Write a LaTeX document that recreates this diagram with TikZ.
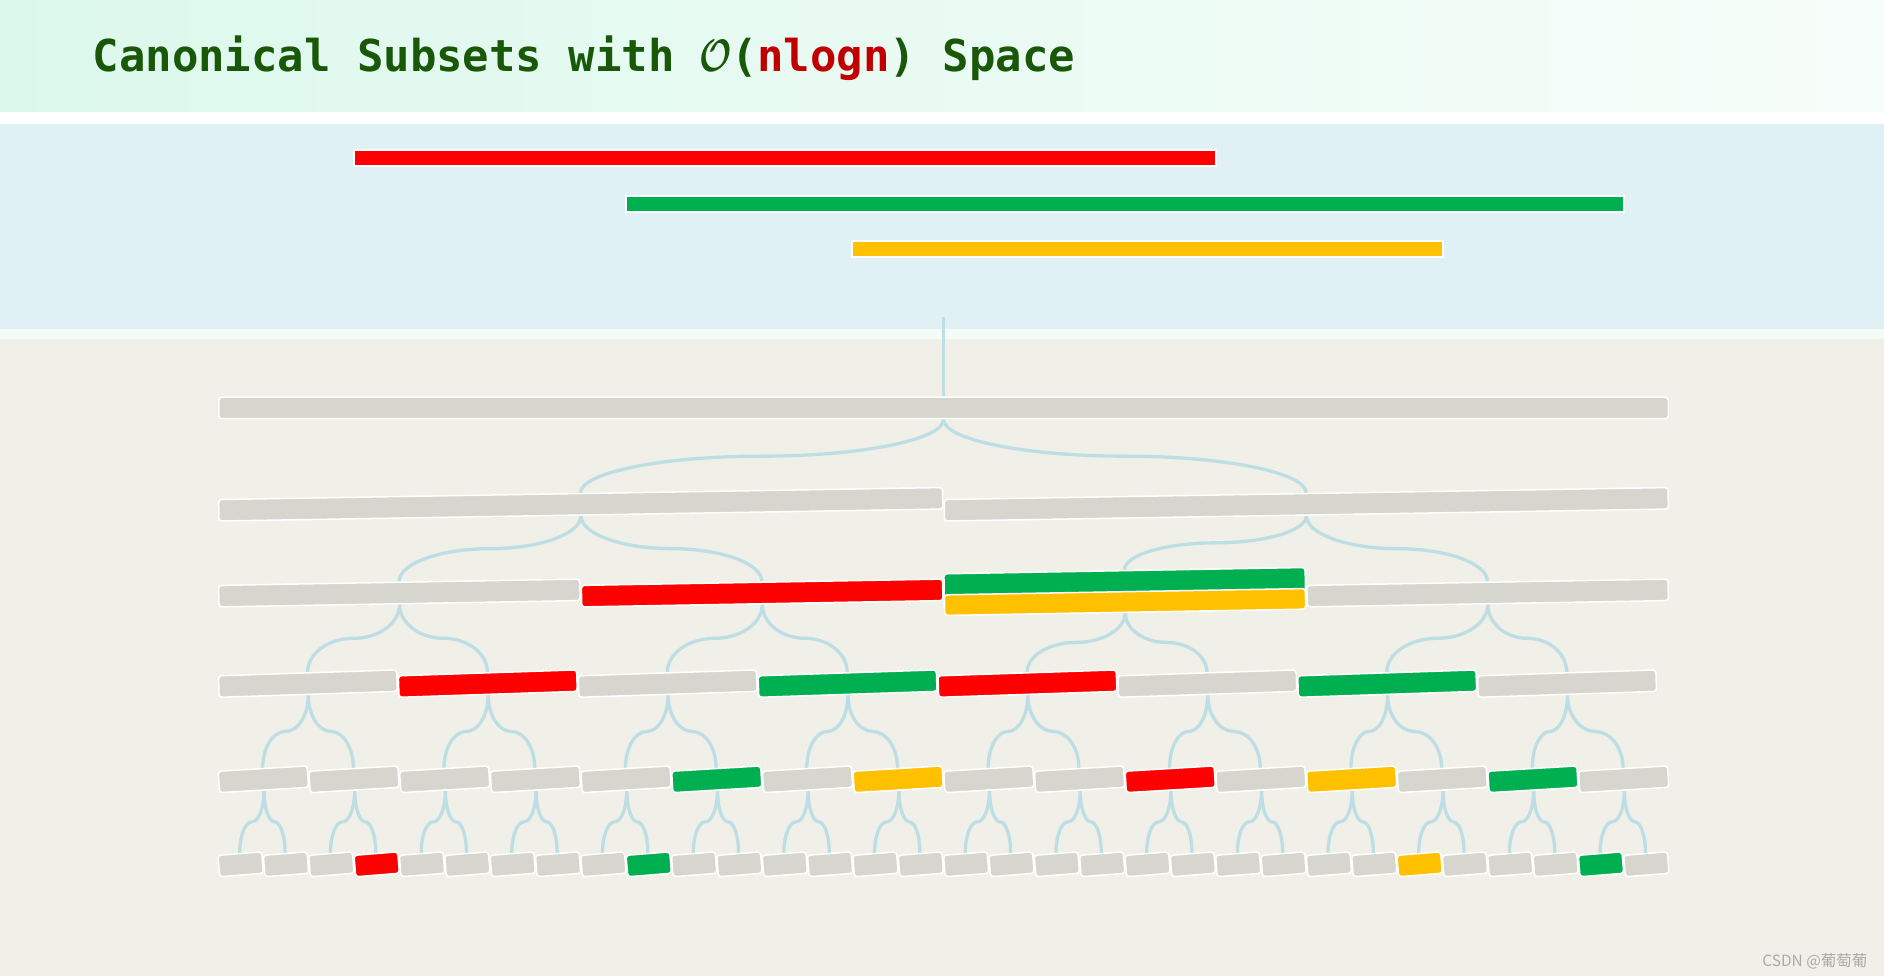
\documentclass[tikz,border=0pt]{standalone}
\usepackage{fontspec}
\usepackage{tikz}
\usetikzlibrary{calc, backgrounds}
\newfontfamily\monofont{DejaVu Sans Mono}
\newfontfamily\cjkfont{Noto Sans CJK SC}
\definecolor{segred}{RGB}{255,0,0}
\definecolor{seggrn}{RGB}{0,176,80}
\definecolor{segyel}{RGB}{255,192,0}
\definecolor{bargray}{RGB}{214,214,207}
\definecolor{linkblue}{RGB}{189,222,228}
\definecolor{beige}{RGB}{240,240,232}
\definecolor{skyband}{RGB}{223,241,245}
\definecolor{mintl}{RGB}{220,248,236}
\definecolor{mintr}{RGB}{247,253,250}
\definecolor{gapmint}{RGB}{243,252,246}
\definecolor{titlegreen}{RGB}{25,88,8}
\definecolor{titlered}{RGB}{192,0,0}
\definecolor{watergray}{RGB}{170,170,170}
\pgfdeclarelayer{edges}
\pgfsetlayers{background,edges,main}
\tikzset{
  bar/.style={rectangle, draw=white, line width=0.15mm, fill=bargray, rounded corners=0.3mm, inner sep=0pt, minimum height=2.15mm},
  seg/.style={draw=white, line width=0.15mm},
  link/.style={draw=linkblue, line width=0.33mm},
  % coloured canonical nodes
  c3-1/.style={fill=segred},
  c3-2/.style={fill=seggrn, minimum height=4.13mm, yshift=0.17mm},
  c4-1/.style={fill=segred}, c4-3/.style={fill=seggrn},
  c4-4/.style={fill=segred}, c4-6/.style={fill=seggrn},
  c5-5/.style={fill=seggrn}, c5-7/.style={fill=segyel},
  c5-10/.style={fill=segred}, c5-12/.style={fill=segyel},
  c5-14/.style={fill=seggrn},
  c6-3/.style={fill=segred}, c6-9/.style={fill=seggrn},
  c6-26/.style={fill=segyel}, c6-30/.style={fill=seggrn}
}
% rounded branch from parent bottom to child top
\newcommand\branch[2]{%
  \coordinate (m) at ($(#1.south)!0.5!(#2.north)$);
  \draw[link] (#1.south) .. controls ($(#1.south)!0.55!(#1.south|-m)$) and ($(m)!0.55!(#1.south|-m)$) .. (m)
    .. controls ($(m)!0.55!(#2.north|-m)$) and ($(#2.north)!0.55!(#2.north|-m)$) .. (#2.north);
}
\begin{document}
\begin{tikzpicture}[x=0.1mm, y=-0.1mm]
    \useasboundingbox (0,0) rectangle (1884,976);
    % Bands
    \begin{scope}[on background layer]
        \fill[gapmint] (0,0) rectangle (1884,976);
        \shade[left color=mintl, right color=mintr] (0,0) rectangle (1884,112);
        \fill[white] (0,112) rectangle (1884,124);
        \fill[skyband] (0,124) rectangle (1884,329);
        \fill[beige] (0,339) rectangle (1884,976);
    \end{scope}

    \node[anchor=base west, inner sep=0pt, text=titlegreen, font=\monofont\bfseries\fontsize{12.5}{15}\selectfont] (title) at (92,71.7)
        {Canonical Subsets with \makebox[0.684em]{\scalebox{0.82}[1.08]{\boldmath$\mathcal{O}$}}(\textcolor{titlered}{nlogn}) Space};

    % Query segments
    \draw[seg, fill=segred] (354,150) rectangle (1216,166);
    \draw[seg, fill=seggrn] (626,196) rectangle (1624,212);
    \draw[seg, fill=segyel] (852,241) rectangle (1443,257);

    % Segment tree (level / y / tilt / total width)
    \foreach \lev/\yc/\ang/\span in {1/408/0/1451, 2/504.3/0.95/1451, 3/593/1.0/1451, 4/683.6/1.9/1439, 5/779.3/3.4/1451, 6/864.3/4.6/1451} {
        \pgfmathtruncatemacro\cnt{2^(\lev-1)-1}
        \pgfmathsetmacro\w{\span/2^(\lev-1)}
        \foreach \i in {0,...,\cnt} {
            \node[bar, minimum width={(\w-1.5)*0.1mm}, rotate=\ang, c\lev-\i/.try] (n-\lev-\i) at ({218+(\i+0.5)*\w},\yc) {};
        }
    }
    \node[bar, fill=segyel, minimum width=36.1mm, minimum height=2.06mm, rotate=1.0] (n-3-2y) at ($(n-3-2.center)!0.5!(n-3-2.south)$) {};

    % Branches
    \begin{pgfonlayer}{edges}
        \coordinate (feed) at (943.5,317);
        \draw[link] (feed) -- (n-1-0.north);
        \foreach \lev in {2,...,6} {
            \pgfmathtruncatemacro\plev{\lev-1}
            \pgfmathtruncatemacro\cnt{2^(\lev-1)-1}
            \foreach \i in {0,...,\cnt} {
                \pgfmathtruncatemacro\j{floor(\i/2)}
                \branch{n-\plev-\j}{n-\lev-\i}
            }
        }
    \end{pgfonlayer}

    \node[anchor=base east, inner sep=0pt, text=watergray, font=\cjkfont\fontsize{4.4}{5}\selectfont] (mark) at (1868,966) {CSDN @葡萄葡};
\end{tikzpicture}
\end{document}
